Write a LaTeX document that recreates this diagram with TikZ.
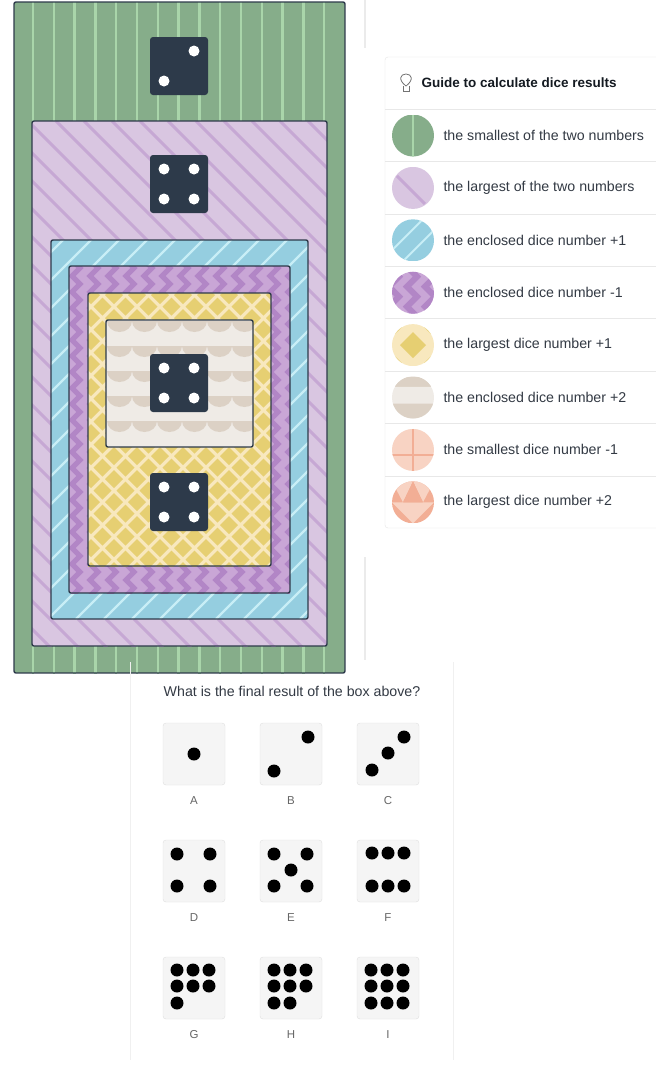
\documentclass[tikz,border=0pt]{standalone}
\usepackage{fontspec}
\setmainfont{Liberation Sans}
\definecolor{dk}{HTML}{2D3A4A}
\definecolor{gA}{HTML}{86AD8A}\definecolor{gB}{HTML}{A9D5AA}
\definecolor{lA}{HTML}{D9C6E1}\definecolor{lB}{HTML}{C6A8D4}
\definecolor{bA}{HTML}{95CEE0}\definecolor{bB}{HTML}{C8EEF6}
\definecolor{pA}{HTML}{C9A6D6}\definecolor{pB}{HTML}{B286C6}
\definecolor{yA}{HTML}{F8E8BE}\definecolor{yB}{HTML}{E6CF72}
\definecolor{cA}{HTML}{EFEBE6}\definecolor{cB}{HTML}{DCD1C5}
\definecolor{oA}{HTML}{F8D3C3}\definecolor{oB}{HTML}{F2AE95}
\definecolor{txt}{HTML}{333A44}\definecolor{rule}{HTML}{E8E8E8}
\newcommand\mydie[3]{% x y n
 \fill[dk,rounded corners=3] (#1,#2) rectangle ++(58,58);
 \ifcase#3\or\or
  \fill[white] (#1+44,#2+14) circle (5.5) (#1+14,#2+44) circle (5.5);
 \or\or
  \fill[white] (#1+14,#2+14) circle (5.5) (#1+44,#2+14) circle (5.5) (#1+14,#2+44) circle (5.5) (#1+44,#2+44) circle (5.5);
 \fi}
\begin{document}
\begin{tikzpicture}[x=1pt,y=-1pt,font=\fontsize{14.2}{17}\selectfont,
 frame/.style={draw=dk,line width=1.4pt,rounded corners=2},
 pip/.style={fill=black},
 opt/.style={fill=black!4,draw=black!12,rounded corners=3}]
\useasboundingbox (0,0) rectangle (656,1080);
\fill[white] (0,0) rectangle (656,1080);
\draw[black!8,line width=2pt] (365,0) -- (365,48) (365,557) -- (365,660);
% green
\begin{scope}\clip (14,2) rectangle (345,673);
 \fill[gA] (14,2) rectangle (345,673);
 \draw[gB,line width=2.5pt] \foreach \k in {33,53.8,...,340}{(\k,0) -- (\k,680)};
\end{scope}
\draw[frame] (14,2) rectangle (345,673);
% lavender
\begin{scope}\clip (32,121) rectangle (327,646);
 \fill[lA] (32,121) rectangle (327,646);
 \draw[lB,line width=3pt] \foreach \k in {-560,-532,...,320}{(\k,121) -- ++(560,560)};
\end{scope}
\draw[frame] (32,121) rectangle (327,646);
% blue
\begin{scope}\clip (51,240) rectangle (308,619);
 \fill[bA] (51,240) rectangle (308,619);
 \draw[bB,line width=2.2pt] \foreach \k in {-400,-372,...,320}{(\k,619) -- ++(400,-400)};
\end{scope}
\draw[frame] (51,240) rectangle (308,619);
% purple chevrons
\begin{scope}\clip (69,266) rectangle (290,593);
 \fill[pA] (69,266) rectangle (290,593);
 \foreach \k in {72,90,...,300}{
  \draw[pB,line width=5pt] (\k,260) \foreach \j in {0,...,22}{ -- ++(8,8) -- ++(-8,8)};}
\end{scope}
\draw[frame] (69,266) rectangle (290,593);
% yellow argyle
\begin{scope}\clip (88,293) rectangle (271,566);
 \fill[yA] (88,293) rectangle (271,566);
 \foreach \i in {0,...,8}{\foreach \j in {0,...,12}{
  \fill[yB] (91+\i*23,295+\j*23) ++(0,-9) -- ++(9,9) -- ++(-9,9) -- ++(-9,-9) -- cycle
            (102.5+\i*23,306.5+\j*23) ++(0,-9) -- ++(9,9) -- ++(-9,9) -- ++(-9,-9) -- cycle;}}
\end{scope}
\draw[frame] (88,293) rectangle (271,566);
% cream scallops
\begin{scope}\clip (106,320) rectangle (253,447);
 \fill[cA] (106,320) rectangle (253,447);
 \foreach \r in {0,...,4}{\foreach \c in {0,...,6}{
  \fill[cB] (107+\c*25,321+\r*25) arc[start angle=180,end angle=0,x radius=12.5,y radius=11] -- cycle;}}
\end{scope}
\draw[frame] (106,320) rectangle (253,447);
\mydie{150}{37}{2}
\mydie{150}{155}{4}
\mydie{150}{354}{4}
\mydie{150}{473}{4}
% legend card
\draw[black!10,rounded corners=3] (385,57) rectangle (670,528);
\node[anchor=west,text=black!55!dk,font=\fontsize{13.5}{16}\bfseries] (hdr) at (418,83) {Guide to calculate dice results};
\draw[black!55,line width=0.8pt] (406,86) .. controls (398,80) and (400,74) .. (406,74) .. controls (412,74) and (414,80) .. (406,86);
\draw[black!55,line width=0.8pt] (403,86) -- (403,91) -- (409,91) -- (409,86);
\foreach \i/\t in {0/the smallest of the two numbers,1/the largest of the two numbers,2/the enclosed dice number +1,3/the enclosed dice number -1,4/the largest dice number +1,5/the enclosed dice number +2,6/the smallest dice number -1,7/the largest dice number +2}{
 \draw[rule] (385,109+\i*52.4) -- (656,109+\i*52.4);
 \node[anchor=west,text=txt] (l\i) at (440,135.5+\i*52.4) {\t};}
\newcommand\icon[2]{\begin{scope}[shift={(413,135.5+#1*52.4)}]\clip (0,0) circle (21); #2 \end{scope}}
\icon{0}{\fill[gA] (-21,-21) rectangle (21,21); \draw[gB,line width=2pt] (0,-21) -- (0,21);}
\icon{1}{\fill[lA] (-21,-21) rectangle (21,21); \draw[lB,line width=3pt] (-16,-12) -- (12,16);}
\icon{2}{\fill[bA] (-21,-21) rectangle (21,21); \draw[bB,line width=2pt] (-21,10) -- (10,-21) (-10,21) -- (21,-10);}
\icon{3}{\fill[pA] (-21,-21) rectangle (21,21); \draw[pB,line width=6pt] \foreach \x in {-24,-6,12}{(\x,-26) -- ++(10,10) -- ++(-10,10) -- ++(10,10) -- ++(-10,10) -- ++(10,10) -- ++(-10,10)};}
\icon{4}{\fill[yA] (-21,-21) rectangle (21,21); \fill[yB] \foreach \p in {(-21,-21),(0,0),(21,-21),(-21,21),(21,21)}{\p ++(0,-13) -- ++(13,13) -- ++(-13,13) -- ++(-13,-13) -- cycle};}
\icon{5}{\fill[cA] (-21,-21) rectangle (21,21); \fill[cB] (-21,-21) rectangle (21,-11) (-21,6) rectangle (21,21); \fill[cB] (-22,-11) arc[start angle=180,end angle=360,radius=11] (0,-11) arc[start angle=180,end angle=360,radius=11] ; \fill[cA] (-10,21) arc[start angle=180,end angle=0,radius=10];}
\icon{6}{\fill[oA] (-21,-21) rectangle (21,21); \draw[oB,line width=1.3pt] (0,-21) -- (0,21) (-21,5) -- (21,5);}
\icon{7}{\fill[oB] (-21,-21) rectangle (21,21); \fill[oA] (-21,-21) -- (0,-21) -- (-10,0) -- cycle (0,-21) -- (21,-21) -- (10,0) -- cycle (-21,0) -- (21,0) -- (0,21) -- cycle; \fill[oB] (-10,0) -- (10,0) -- (0,-21) -- cycle;}
% question card
\draw[black!6,line width=1pt] (130,662) -- (130,1060) (453,662) -- (453,1060);
\node[text=txt] (q) at (292,691) {What is the final result of the box above?};
\newcommand\opt[4]{\begin{scope}[shift={(#1,#2)}]\fill[opt] (0,0) rectangle (62,62); \fill[pip] #4; \end{scope}\node[text=black!60,font=\fontsize{11.5}{13}\selectfont] at (#1+31,#2+78) {#3};}
\opt{163}{723}{A}{(31,31) circle (6.5)}
\opt{260}{723}{B}{(48,14) circle (6.5) (14,48) circle (6.5)}
\opt{357}{723}{C}{(47,14) circle (6.5) (31,30) circle (6.5) (15,47) circle (6.5)}
\opt{163}{840}{D}{(14,14) circle (6.5) (47,14) circle (6.5) (14,46) circle (6.5) (47,46) circle (6.5)}
\opt{260}{840}{E}{(14,14) circle (6.5) (47,14) circle (6.5) (14,46) circle (6.5) (47,46) circle (6.5) (31,30) circle (6.5)}
\opt{357}{840}{F}{\foreach \x in {15,31,47}{(\x,13) circle (6.5) (\x,46) circle (6.5)}}
\opt{163}{957}{G}{\foreach \x in {14,30,46}{(\x,13) circle (6.5) (\x,29) circle (6.5)} (14,46) circle (6.5)}
\opt{260}{957}{H}{\foreach \x in {14,30,46}{(\x,13) circle (6.5) (\x,29) circle (6.5)} (14,46) circle (6.5) (30,46) circle (6.5)}
\opt{357}{957}{I}{\foreach \x in {14,30,46}{(\x,13) circle (6.5) (\x,29) circle (6.5) (\x,46) circle (6.5)}}
\end{tikzpicture}
\end{document}
